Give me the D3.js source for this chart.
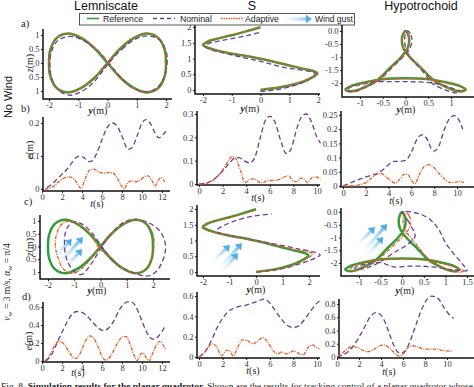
<!DOCTYPE html>
<html>
<head>
<meta charset="utf-8">
<script src="https://cdn.jsdelivr.net/npm/d3@7"></script>
<style>
  body { margin: 0; background: #fff; }
  svg { display: block; }
</style>
</head>
<body>
<svg id="fig" width="474" height="387"></svg>
<script>
"use strict"

/****** DATA ******/
// trajectories as [y, z] in metres
const lemRef = [[0,0],[0.42,0.5],[0.88,0.88],[1.35,1.05],[1.75,0.88],[1.96,0.45],[2.0,0],[1.96,-0.45],[1.75,-0.88],[1.35,-1.05],[0.88,-0.88],[0.42,-0.5],
  [0,0],[-0.42,0.5],[-0.88,0.88],[-1.35,1.05],[-1.75,0.88],[-1.96,0.45],[-2.0,0],[-1.96,-0.45],[-1.75,-0.88],[-1.35,-1.05],[-0.88,-0.88],[-0.42,-0.5]]
const lemNomA = [[0.05,0],[0.5,0.5],[0.95,0.85],[1.4,0.97],[1.8,0.8],[2.02,0.35],[2.03,-0.1],[1.92,-0.55],[1.65,-0.92],[1.25,-1.02],[0.8,-0.85],[0.4,-0.45],
  [0.05,0],[-0.4,0.5],[-0.85,0.82],[-1.3,0.95],[-1.7,0.8],[-1.92,0.4],[-1.97,-0.05],[-1.92,-0.5],[-1.7,-0.95],[-1.3,-1.15],[-0.85,-1.0],[-0.4,-0.6]]
const lemAdaA = [[0.02,0.02],[0.44,0.52],[0.9,0.9],[1.36,1.06],[1.77,0.87],[1.97,0.43],[2.01,-0.02],[1.95,-0.47],[1.73,-0.9],[1.33,-1.06],[0.86,-0.89],[0.4,-0.49],
  [0.02,0.01],[-0.4,0.5],[-0.86,0.9],[-1.33,1.06],[-1.74,0.9],[-1.97,0.46],[-2.01,0.01],[-1.97,-0.44],[-1.76,-0.87],[-1.36,-1.05],[-0.9,-0.9],[-0.44,-0.51]]
const lemNomC = [[0.05,0],[0.5,0.6],[0.9,0.95],[1.35,1.06],[1.9,0.9],[2.3,0.55],[2.48,0],[2.35,-0.6],[2.1,-1.0],[1.78,-1.16],[1.3,-1.05],[0.72,-0.77],[0.3,-0.35],
  [0.05,0],[-0.3,0.5],[-0.7,0.88],[-1.05,0.97],[-1.3,0.67],[-1.37,0],[-1.25,-0.6],[-1.0,-0.98],[-0.73,-1.1],[-0.4,-0.75],[-0.15,-0.35]]
const lemAdaC = [[-0.05,-0.05],[0.45,0.55],[0.95,0.92],[1.4,1.05],[1.8,0.85],[2.02,0.4],[2.03,0],[1.95,-0.45],[1.7,-0.9],[1.35,-1.05],[0.9,-0.9],[0.45,-0.5],
  [-0.05,-0.05],[-0.4,0.5],[-0.8,0.85],[-1.2,1.0],[-1.5,0.85],[-1.68,0.45],[-1.72,0],[-1.6,-0.5],[-1.4,-0.9],[-1.05,-1.05],[-0.7,-0.85],[-0.35,-0.45]]

const sRef = [[0,0],[0.5,0.06],[1.0,0.14],[1.5,0.27],[1.8,0.4],[1.98,0.52],[1.85,0.6],[1.5,0.67],[1.0,0.78],[0.5,0.89],[0,0.99],[-0.5,1.08],[-1.0,1.15],
  [-1.5,1.25],[-1.85,1.35],[-2.0,1.43],[-1.85,1.53],[-1.5,1.63],[-1.0,1.74],[-0.5,1.86],[0,1.99]]
const sNomA = [[0,-0.05],[0.5,0.0],[1.0,0.1],[1.5,0.25],[1.78,0.4],[1.9,0.52],[1.75,0.58],[1.3,0.65],[0.8,0.72],[0.3,0.84],[-0.2,0.95],[-0.8,1.07],
  [-1.4,1.2],[-1.8,1.3],[-1.93,1.38],[-1.82,1.47],[-1.4,1.56],[-0.9,1.65],[-0.4,1.74],[-0.05,1.82]]
const sAdaA = [[0,0.01],[0.5,0.07],[1.0,0.15],[1.5,0.28],[1.82,0.41],[2.0,0.53],[1.86,0.61],[1.5,0.68],[1.0,0.79],[0.5,0.9],[0,1.0],[-0.5,1.09],[-1.0,1.16],
  [-1.5,1.26],[-1.86,1.36],[-2.01,1.44],[-1.87,1.54],[-1.5,1.64],[-1.0,1.75],[-0.5,1.87],[0,1.99]]
const sNomC = [[0,0],[0.6,0.05],[1.2,0.15],[1.8,0.3],[2.25,0.45],[2.42,0.54],[2.2,0.63],[1.66,0.72],[1.0,0.84],[0.1,0.98],[-0.6,1.1],[-1.2,1.2],
  [-1.48,1.28],[-1.45,1.36],[-1.2,1.48],[-0.87,1.6],[-0.4,1.72],[0.1,1.8],[0.59,1.84]]
const sAdaC = [[0,0],[0.5,0.04],[1.0,0.12],[1.5,0.26],[1.9,0.42],[2.15,0.57],[1.95,0.65],[1.5,0.7],[1.0,0.8],[0.5,0.9],[0,0.99],[-0.5,1.07],[-1.0,1.15],
  [-1.5,1.24],[-1.88,1.33],[-2.05,1.42],[-1.9,1.52],[-1.5,1.62],[-1.0,1.73],[-0.5,1.85],[0,1.97]]

const hypRef = [[0,0],[0.06,-0.15],[0.08,-0.4],[0.05,-0.65],[0,-0.8],[-0.12,-1.05],[-0.3,-1.35],[-0.47,-1.65],[-0.61,-1.88],[-0.85,-2.12],[-1.1,-2.3],
  [-1.28,-2.3],[-1.32,-2.25],[-1.2,-2.12],[-0.95,-2.0],[-0.61,-1.88],[-0.3,-1.83],[0,-1.82],[0.3,-1.83],[0.61,-1.88],[0.95,-2.0],[1.2,-2.12],[1.32,-2.25],
  [1.28,-2.3],[1.1,-2.3],[0.85,-2.12],[0.61,-1.88],[0.47,-1.65],[0.3,-1.35],[0.12,-1.05],[0,-0.8],[-0.05,-0.65],[-0.08,-0.4],[-0.06,-0.15]]
const hypNomA = [[0.05,0],[0.12,-0.15],[0.14,-0.4],[0.1,-0.65],[0.04,-0.82],[-0.1,-1.08],[-0.28,-1.38],[-0.46,-1.7],[-0.6,-1.92],[-0.85,-2.15],[-1.1,-2.32],
  [-1.3,-2.3],[-1.22,-2.17],[-0.95,-2.05],[-0.6,-1.95],[-0.3,-1.95],[0,-1.95],[0.3,-1.96],[0.58,-2.0],[0.9,-2.12],[1.1,-2.25],[1.22,-2.33],[1.1,-2.38],
  [0.85,-2.25],[0.58,-2.0],[0.45,-1.7],[0.3,-1.4],[0.15,-1.1],[0.04,-0.82],[0,-0.62],[-0.02,-0.38],[0,-0.12]]
const hypAdaA = [[0.01,-0.01],[0.07,-0.16],[0.09,-0.41],[0.06,-0.66],[0.01,-0.81],[-0.11,-1.06],[-0.29,-1.36],[-0.46,-1.66],[-0.6,-1.89],[-0.84,-2.13],[-1.09,-2.31],
  [-1.27,-2.31],[-1.31,-2.26],[-1.19,-2.13],[-0.94,-2.01],[-0.6,-1.89],[-0.29,-1.84],[0.01,-1.83],[0.31,-1.84],[0.62,-1.9],[0.96,-2.02],[1.22,-2.14],[1.34,-2.26],
  [1.29,-2.31],[1.1,-2.31],[0.85,-2.13],[0.62,-1.89],[0.48,-1.66],[0.31,-1.36],[0.13,-1.06],[0.01,-0.81],[-0.04,-0.66],[-0.07,-0.41],[-0.05,-0.16]]
const hypNomC = [[0,0],[0.12,-0.3],[0.22,-0.6],[0.3,-0.95],[0.1,-1.3],[-0.2,-1.6],[-0.5,-1.95],[-0.75,-2.15],[-1.0,-2.25],[-1.1,-2.2],[-0.95,-2.08],[-0.7,-2.02],
  [-0.5,-1.98],[-0.2,-2.15],[0.2,-2.12],[0.7,-2.15],[1.1,-2.25],[1.4,-2.3],[1.5,-2.3],[1.4,-2.05],[1.2,-1.65],[1.0,-1.2],[0.85,-0.7],[0.65,-0.3],[0.35,-0.05]]
const hypAdaC = [[0.08,0],[0.16,-0.15],[0.2,-0.4],[0.16,-0.65],[0.08,-0.82],[-0.06,-1.08],[-0.24,-1.38],[-0.43,-1.67],[-0.57,-1.88],[-0.82,-2.12],[-1.05,-2.28],
  [-1.22,-2.28],[-1.12,-2.12],[-0.9,-2.0],[-0.57,-1.88],[-0.25,-1.83],[0.05,-1.83],[0.35,-1.85],[0.68,-1.92],[1.0,-2.05],[1.28,-2.2],[1.42,-2.3],[1.35,-2.36],
  [1.1,-2.3],[0.85,-2.12],[0.62,-1.85],[0.48,-1.6],[0.34,-1.3],[0.2,-1.0],[0.1,-0.8],[0.04,-0.6],[0.02,-0.35],[0.03,-0.12]]

// tracking errors as [t (s), e (m)]
const errLemNom = [[0.5,0.005],[1,0.015],[1.5,0.03],[2,0.045],[2.5,0.06],[3,0.08],[3.5,0.097],[3.8,0.1],[4.2,0.095],[4.7,0.083],[5.0,0.085],[5.5,0.11],[6,0.15],
  [6.5,0.185],[7,0.2],[7.4,0.195],[8,0.16],[8.6,0.12],[9,0.125],[9.5,0.16],[10,0.2],[10.4,0.21],[10.8,0.2],[11.3,0.17],[11.7,0.155],[12.1,0.165],[12.4,0.175]]
const errLemAda = [[0.3,0],[1,0.005],[1.6,0.02],[2.2,0.033],[2.7,0.037],[3.1,0.033],[3.5,0.018],[3.9,0.002],[4.3,0.03],[4.8,0.058],[5.2,0.06],[5.7,0.052],[6.2,0.048],
  [6.7,0.05],[7.1,0.048],[7.5,0.035],[7.9,0.012],[8.2,0],[8.6,0.02],[9.0,0.025],[9.4,0.022],[9.8,0.027],[10.3,0.038],[10.6,0.04],[11.0,0.025],[11.3,0.008],
  [11.6,0.025],[11.9,0.035],[12.1,0.03],[12.3,0.02]]
const errSNom = [[0,0],[0.5,0.003],[1,0.012],[1.5,0.03],[2,0.055],[2.5,0.085],[3,0.11],[3.4,0.113],[3.8,0.1],[4.3,0.09],[4.7,0.11],[5.2,0.2],[5.6,0.27],[6,0.29],
  [6.4,0.27],[6.9,0.19],[7.4,0.13],[7.8,0.15],[8.3,0.24],[8.8,0.295],[9.1,0.3],[9.5,0.27],[10,0.2],[10.3,0.175]]
const errSAda = [[0,0],[0.5,0.002],[1,0.01],[1.5,0.03],[2,0.06],[2.5,0.1],[2.8,0.118],[3.1,0.11],[3.5,0.06],[3.9,0.005],[4.3,0.02],[4.7,0.022],[5.1,0.008],[5.4,0.005],
  [5.8,0.015],[6.3,0.015],[6.8,0.02],[7.3,0.032],[7.6,0.035],[8.0,0.012],[8.3,0.01],[8.6,0.025],[8.9,0.02],[9.2,0.005],[9.6,0.028],[9.9,0.03],[10.3,0.02]]
const errHypNom = [[0,0],[0.5,0.008],[1,0.017],[1.5,0.025],[2,0.032],[2.5,0.038],[3,0.045],[3.5,0.057],[4,0.075],[4.5,0.087],[5,0.087],[5.5,0.09],[6,0.12],
  [6.5,0.165],[6.9,0.18],[7.3,0.17],[7.7,0.135],[8.0,0.123],[8.4,0.14],[8.9,0.2],[9.4,0.24],[9.8,0.248],[10.2,0.23],[10.5,0.2]]
const errHypAda = [[0,0],[1,0.001],[1.5,0.005],[2,0.012],[2.5,0.028],[3,0.042],[3.3,0.045],[3.7,0.035],[4.2,0.018],[4.6,0.01],[5,0.025],[5.4,0.042],[5.7,0.04],
  [6.0,0.02],[6.3,0.008],[6.7,0.04],[7.1,0.068],[7.5,0.075],[7.9,0.068],[8.4,0.045],[8.9,0.025],[9.3,0.013],[9.8,0.013],[10.2,0.017],[10.6,0.012]]
const errLemNomW = [[0.4,0],[1,0.08],[1.5,0.2],[2,0.32],[2.5,0.43],[3,0.52],[3.5,0.55],[4,0.54],[4.5,0.5],[5,0.44],[5.5,0.38],[6.1,0.34],[6.6,0.36],[7.2,0.45],
  [7.8,0.58],[8.4,0.65],[8.8,0.66],[9.3,0.62],[9.8,0.5],[10.3,0.36],[10.8,0.26],[11.2,0.24],[11.6,0.27],[12.0,0.33],[12.4,0.4]]
const errLemAdaW = [[0.3,0],[0.8,0.07],[1.3,0.18],[1.7,0.22],[2.1,0.2],[2.6,0.12],[3.1,0.04],[3.4,0.03],[3.8,0.08],[4.3,0.21],[4.8,0.28],[5.2,0.25],[5.7,0.13],
  [6.1,0.03],[6.4,0.01],[6.9,0.06],[7.5,0.19],[8.1,0.27],[8.4,0.27],[8.9,0.16],[9.3,0.04],[9.5,0.005],[9.9,0.08],[10.1,0.09],[10.4,0.04],[10.7,0],[11.0,0.07],
  [11.5,0.19],[11.8,0.22],[12.1,0.18],[12.4,0.12]]
const errSNomW = [[0,0],[0.5,0.05],[1,0.15],[1.5,0.28],[2,0.38],[2.5,0.45],[3,0.48],[3.5,0.5],[4,0.51],[4.5,0.53],[5,0.55],[5.5,0.57],[6,0.53],[6.5,0.45],[7,0.37],
  [7.5,0.31],[8,0.29],[8.5,0.31],[9,0.38],[9.5,0.46],[10,0.53],[10.3,0.56]]
const errSAdaW = [[0,0],[0.5,0.05],[1.1,0.13],[1.5,0.1],[1.9,0.01],[2.3,0.065],[2.6,0.06],[2.9,0.01],[3.3,0.1],[3.7,0.17],[4.1,0.16],[4.6,0.13],[5.0,0.16],[5.4,0.19],
  [5.8,0.15],[6.3,0.06],[6.7,0.03],[7.0,0.05],[7.4,0.03],[7.8,0.05],[8.1,0.06],[8.5,0.03],[8.8,0.02],[9.3,0.1],[9.6,0.12],[9.9,0.1],[10.2,0.08]]
const errHypNomW = [[0,0],[0.5,0.03],[1,0.08],[1.5,0.17],[2,0.3],[2.5,0.45],[3,0.6],[3.5,0.67],[3.9,0.65],[4.3,0.55],[4.7,0.38],[5.1,0.2],[5.5,0.08],[5.8,0.06],
  [6.2,0.09],[6.6,0.22],[7.1,0.45],[7.6,0.68],[8.1,0.85],[8.6,0.92],[9.1,0.9],[9.6,0.78],[10.1,0.66],[10.6,0.58]]
const errHypAdaW = [[0,0],[0.5,0.06],[1,0.13],[1.4,0.16],[1.9,0.14],[2.5,0.09],[2.9,0.08],[3.4,0.12],[3.9,0.17],[4.3,0.18],[4.8,0.13],[5.3,0.05],[5.7,0.01],
  [6.1,0.06],[6.5,0.15],[6.9,0.17],[7.4,0.15],[7.9,0.12],[8.5,0.12],[9.1,0.12],[9.6,0.1],[10.1,0.09],[10.5,0.09]]

// wind gust arrows, [tail, head] in data units
const windLem = [[[-1.73,-0.41],[-1.09,0.29]],[[-1.62,-0.73],[-0.67,0.37]],[[-1.35,-0.84],[-0.7,-0.1]]]
const windS = [[[-1.66,0.32],[-0.98,0.86]],[[-1.43,0.06],[-0.53,0.92]],[[-1.28,0.0],[-0.68,0.6]]]
const windHyp = [[[-1.04,-1.29],[-0.63,-0.59]],[[-0.93,-1.61],[-0.35,-0.47]],[[-0.81,-1.69],[-0.44,-0.98]]]

// ticks
const ticksPm2 = [-2, -1, 0, 1, 2]
const ticksZLem = [-1, -0.5, 0, 0.5, 1]
const labelsZLem = ['1', '0.5', '0', '0.5', '1']
const ticksZS = [0, 0.5, 1, 1.5, 2]
const ticksYHypA = [-1, -0.5, 0, 0.5, 1]
const ticksYHypC = [-1, -0.5, 0, 0.5, 1, 1.5]
const ticksZHyp = [0, -0.5, -1, -1.5, -2]
const labelsZHyp = ['0.0', '-0.5', '-1', '-1.5', '-2']
const ticksT12 = [0, 2, 4, 6, 8, 10, 12]
const ticksT10 = [0, 2, 4, 6, 8, 10]
const ticksELemB = [0, 0.1, 0.2]
const ticksESB = [0, 0.1, 0.2, 0.3]
const ticksEHypB = [0, 0.05, 0.1, 0.15, 0.2, 0.25]
const ticksEW6 = [0, 0.2, 0.4, 0.6]
const ticksEW8 = [0, 0.2, 0.4, 0.6, 0.8]

const titles = ['Lemniscate', 'S', 'Hypotrochoid']

/****** STYLE ******/
const serif = '"Liberation Serif", "DejaVu Serif", serif'
const sans = '"Liberation Sans", Arial, sans-serif'
const colRef = '#2f9d3a'
const colNom = '#6a3d98'
const colAda = '#e95a1f'
const styles = {
  ref: {stroke: colRef, width: 2.5, dash: null},
  nom: {stroke: colNom, width: 1.3, dash: '5,3'},
  ada: {stroke: colAda, width: 1.3, dash: '3.5,1.2,1,1.2'},
}

const svg = d3.select('#fig')
const defs = svg.append('defs')
let gradN = 0

function fmt(d) { return String(d) }

function arrow(g, x1, y1, x2, y2, w) {
  const id = `wg${gradN++}`
  const gr = defs.append('linearGradient').attr('id', id).attr('gradientUnits', 'userSpaceOnUse')
    .attr('x1', x1).attr('y1', y1).attr('x2', x2).attr('y2', y2)
  gr.append('stop').attr('offset', 0).attr('stop-color', '#cdeaf8').attr('stop-opacity', 0)
  gr.append('stop').attr('offset', 0.5).attr('stop-color', '#9fd3f1').attr('stop-opacity', 0.6)
  gr.append('stop').attr('offset', 1).attr('stop-color', '#4eaee3').attr('stop-opacity', 1)
  const len = Math.hypot(x2 - x1, y2 - y1)
  const ux = (x2 - x1) / len, uy = (y2 - y1) / len
  const hl = w * 1.9, hw = w * 1.35
  const bx = x2 - ux * hl, by = y2 - uy * hl
  g.append('line').attr('x1', x1).attr('y1', y1).attr('x2', bx).attr('y2', by)
    .attr('stroke', `url(#${id})`).attr('stroke-width', w)
  g.append('path')
    .attr('d', `M${x2},${y2}L${bx - uy * hw},${by + ux * hw}L${bx + uy * hw},${by - ux * hw}Z`)
    .attr('fill', '#4eaee3')
}

function panel(p) {
  const x = d3.scaleLinear().domain(p.xDomain).range(p.xRange)
  const y = d3.scaleLinear().domain(p.yDomain).range(p.yRange)
  const g = svg.append('g')

  const gx = g.append('g').attr('transform', `translate(0,${p.axisY})`)
    .call(d3.axisBottom(x).tickValues(p.xTicks).tickFormat((d, i) => p.xLabels ? p.xLabels[i] : fmt(d)).tickSize(2).tickPadding(1))
  const gy = g.append('g').attr('transform', `translate(${p.axisX},0)`)
    .call(d3.axisLeft(y).tickValues(p.yTicks).tickFormat((d, i) => p.yLabels ? p.yLabels[i] : fmt(d)).tickSize(2).tickPadding(1.5))
  for (const a of [gx, gy]) {
    a.select('.domain').remove()
    a.attr('font-family', serif).attr('font-size', 8.5)
    a.selectAll('.tick text').attr('fill', '#333')
    a.selectAll('.tick line').attr('stroke', '#222')
  }
  g.append('path')
    .attr('d', `M${p.axisX},${p.yTop}V${p.axisY}H${p.xEnd}`)
    .attr('fill', 'none').attr('stroke', '#111').attr('stroke-width', 1.5)

  if (p.wind) for (const [t, h] of p.wind) arrow(g, x(t[0]), y(t[1]), x(h[0]), y(h[1]), 3.2)

  const curve = p.closed === true ? d3.curveCatmullRomClosed.alpha(0.5)
    : p.closed === false ? d3.curveCatmullRom.alpha(0.5) : d3.curveMonotoneX
  const line = d3.line().x(d => x(d[0])).y(d => y(d[1])).curve(curve)
  for (const s of p.series) {
    const st = styles[s.kind]
    g.append('path').datum(s.data).attr('d', line)
      .attr('fill', 'none').attr('stroke', st.stroke).attr('stroke-width', st.width)
      .attr('stroke-dasharray', st.dash).attr('stroke-linejoin', 'round')
  }

  if (p.xTitle) axisTitle(g, p.xTitle[0], p.xTitle[1], p.xTitle[2], p.xTitle[3], false)
  if (p.yTitle) axisTitle(g, p.yTitle[0], p.yTitle[1], p.yTitle[2], p.yTitle[3], true)
}

function axisTitle(g, x, y, v, unit, rot) {
  const t = g.append('text').attr('font-family', serif).attr('font-size', 10).attr('fill', '#222').attr('text-anchor', 'middle')
  if (rot) t.attr('transform', `translate(${x},${y}) rotate(-90)`)
  else t.attr('x', x).attr('y', y)
  t.append('tspan').attr('font-style', 'italic').attr('font-weight', v === 'y' ? 'bold' : null).text(v)
  t.append('tspan').text(`(${unit})`)
}

/****** PANELS ******/
const panels = [
  // row a: no wind, trajectories
  {xDomain: [-2, 2], xRange: [49, 166], yDomain: [-1, 1], yRange: [91, 35], axisX: 43, axisY: 99, yTop: 29, xEnd: 172,
    xTicks: ticksPm2, yTicks: ticksZLem, yLabels: labelsZLem, closed: true,
    series: [{kind: 'ref', data: lemRef}, {kind: 'nom', data: lemNomA}, {kind: 'ada', data: lemAdaA}],
    xTitle: [98, 114, 'y', 'm'], yTitle: [33, 63, 'z', 'm']},
  {xDomain: [-2, 2], xRange: [203, 318], yDomain: [0, 2], yRange: [90, 27], axisX: 195, axisY: 94, yTop: 22, xEnd: 320,
    xTicks: ticksPm2, yTicks: ticksZS, closed: false,
    series: [{kind: 'ref', data: sRef}, {kind: 'nom', data: sNomA}, {kind: 'ada', data: sAdaA}],
    xTitle: [250, 112, 'y', 'm']},
  {xDomain: [-1, 1], xRange: [360, 451], yDomain: [-2, 0], yRange: [83, 31], axisX: 342, axisY: 97, yTop: 25, xEnd: 474,
    xTicks: ticksYHypA, yTicks: ticksZHyp, yLabels: labelsZHyp, closed: true,
    series: [{kind: 'ref', data: hypRef}, {kind: 'nom', data: hypNomA}, {kind: 'ada', data: hypAdaA}],
    xTitle: [406, 113, 'y', 'm']},
  // row b: no wind, errors
  {xDomain: [0, 12], xRange: [42, 162], yDomain: [0, 0.2], yRange: [189, 123], axisX: 43, axisY: 191, yTop: 117, xEnd: 170,
    xTicks: ticksT12, yTicks: ticksELemB,
    series: [{kind: 'nom', data: errLemNom}, {kind: 'ada', data: errLemAda}],
    xTitle: [97, 207, 't', 's'], yTitle: [33, 150, 'e', 'm']},
  {xDomain: [0, 10], xRange: [199, 317], yDomain: [0, 0.3], yRange: [184, 114], axisX: 197, axisY: 185, yTop: 111, xEnd: 320,
    xTicks: ticksT10, yTicks: ticksESB,
    series: [{kind: 'nom', data: errSNom}, {kind: 'ada', data: errSAda}],
    xTitle: [258, 201, 't', 's']},
  {xDomain: [0, 10], xRange: [343, 457], yDomain: [0, 0.25], yRange: [186, 115], axisX: 341, axisY: 187, yTop: 111, xEnd: 474,
    xTicks: ticksT10, yTicks: ticksEHypB,
    series: [{kind: 'nom', data: errHypNom}, {kind: 'ada', data: errHypAda}],
    xTitle: [396, 204, 't', 's']},
  // row c: wind, trajectories
  {xDomain: [-2, 2], xRange: [48, 153], yDomain: [-1, 1], yRange: [272, 221], axisX: 40, axisY: 279, yTop: 215, xEnd: 170,
    xTicks: ticksPm2, yTicks: ticksZLem, yLabels: labelsZLem, closed: true, wind: windLem,
    series: [{kind: 'ref', data: lemRef}, {kind: 'nom', data: lemNomC}, {kind: 'ada', data: lemAdaC}],
    xTitle: [97, 294, 'y', 'm'], yTitle: [33, 247, 'z', 'm']},
  {xDomain: [-2, 2], xRange: [203, 309], yDomain: [0, 2], yRange: [272, 209], axisX: 197, axisY: 276, yTop: 205, xEnd: 320,
    xTicks: ticksPm2, yTicks: ticksZS, closed: false, wind: windS,
    series: [{kind: 'ref', data: sRef}, {kind: 'nom', data: sNomC}, {kind: 'ada', data: sAdaC}],
    xTitle: [256, 293, 'y', 'm']},
  {xDomain: [-1, 1.5], xRange: [359, 467], yDomain: [-2, 0], yRange: [263, 212], axisX: 341, axisY: 276, yTop: 208, xEnd: 474,
    xTicks: ticksYHypC, yTicks: ticksZHyp, yLabels: labelsZHyp, closed: true, wind: windHyp,
    series: [{kind: 'ref', data: hypRef}, {kind: 'nom', data: hypNomC}, {kind: 'ada', data: hypAdaC}],
    xTitle: [405, 294, 'y', 'm']},
  // row d: wind, errors
  {xDomain: [0, 12], xRange: [42, 162], yDomain: [0, 0.6], yRange: [361, 307], axisX: 43, axisY: 362, yTop: 302, xEnd: 170,
    xTicks: ticksT12, yTicks: ticksEW6,
    series: [{kind: 'nom', data: errLemNomW}, {kind: 'ada', data: errLemAdaW}],
    xTitle: [78, 376, 't', 's'], yTitle: [32, 341, 'e', 'm']},
  {xDomain: [0, 10], xRange: [199, 317], yDomain: [0, 0.6], yRange: [357, 296], axisX: 197, axisY: 358, yTop: 292, xEnd: 320,
    xTicks: ticksT10, yTicks: ticksEW6,
    series: [{kind: 'nom', data: errSNomW}, {kind: 'ada', data: errSAdaW}],
    xTitle: [253, 374, 't', 's']},
  {xDomain: [0, 10], xRange: [337, 447], yDomain: [0, 0.8], yRange: [357, 304], axisX: 339, axisY: 358, yTop: 299, xEnd: 474,
    xTicks: ticksT10, yTicks: ticksEW8,
    series: [{kind: 'nom', data: errHypNomW}, {kind: 'ada', data: errHypAdaW}],
    xTitle: [389, 375, 't', 's']},
]
panels.forEach(panel)

/****** TITLES, LABELS, LEGEND ******/
const titleX = [106, 252, 421]
svg.selectAll('text.title').data(titles).enter().append('text')
  .attr('class', 'title').attr('x', (d, i) => titleX[i]).attr('y', 10)
  .attr('text-anchor', 'middle').attr('font-family', sans).attr('font-size', 12.5).attr('fill', '#111')
  .text(d => d)

const rowLabels = [['a)', 21, 27], ['b)', 21, 112], ['c)', 24, 205], ['d)', 22, 300]]
svg.selectAll('text.row').data(rowLabels).enter().append('text')
  .attr('class', 'row').attr('x', d => d[1]).attr('y', d => d[2])
  .attr('font-family', serif).attr('font-size', 10.5).attr('fill', '#222').text(d => d[0])

svg.append('text').attr('transform', 'translate(12,97) rotate(-90)').attr('text-anchor', 'middle')
  .attr('font-family', sans).attr('font-size', 11).attr('fill', '#111').text('No Wind')

const windLabel = svg.append('text').attr('transform', 'translate(10,282) rotate(-90)').attr('text-anchor', 'middle')
  .attr('font-family', serif).attr('font-size', 9.5).attr('fill', '#222')
windLabel.append('tspan').attr('font-style', 'italic').text('v')
windLabel.append('tspan').attr('font-size', 7).attr('dy', 2).text('w')
windLabel.append('tspan').attr('dy', -2).text(' = 3 m/s, ')
windLabel.append('tspan').attr('font-style', 'italic').text('α')
windLabel.append('tspan').attr('font-size', 7).attr('dy', 2).text('w')
windLabel.append('tspan').attr('dy', -2).text(' = π/4')

// legend
const lg = svg.append('g')
lg.append('rect').attr('x', 79.5).attr('y', 13.5).attr('width', 275).attr('height', 11.5)
  .attr('fill', '#fff').attr('stroke', '#444').attr('stroke-width', 0.9)
const legendItems = [
  {kind: 'ref', label: 'Reference', x0: 87, x1: 99, tx: 103},
  {kind: 'nom', label: 'Nominal', x0: 153, x1: 175, tx: 180},
  {kind: 'ada', label: 'Adaptive', x0: 221, x1: 243, tx: 245},
]
for (const it of legendItems) {
  const st = styles[it.kind]
  lg.append('line').attr('x1', it.x0).attr('x2', it.x1).attr('y1', 18.5).attr('y2', 18.5)
    .attr('stroke', st.stroke).attr('stroke-width', it.kind === 'ref' ? 1.6 : 1.3)
    .attr('stroke-dasharray', it.kind === 'ada' ? '1.5,1' : it.kind === 'nom' ? '4,3' : null)
  lg.append('text').attr('x', it.tx).attr('y', 22).attr('font-family', sans).attr('font-size', 8.7).attr('fill', '#222').text(it.label)
}
arrow(lg, 284, 19, 312, 19, 3.2)
lg.append('text').attr('x', 315).attr('y', 22).attr('font-family', sans).attr('font-size', 8.7).attr('fill', '#222')
  .attr('textLength', 38).attr('lengthAdjust', 'spacingAndGlyphs').text('Wind gust')

// caption (the bottom edge cuts it, as in the original)
const cap = svg.append('text').attr('x', 1).attr('y', 388.5).attr('font-family', serif).attr('font-size', 8.5).attr('fill', '#222')
  .attr('textLength', 472).attr('lengthAdjust', 'spacingAndGlyphs')
cap.append('tspan').text('Fig. 8. ')
cap.append('tspan').attr('font-weight', 'bold').text('Simulation results for the planar quadrotor.')
cap.append('tspan').text(' Shown are the results for tracking control of a planar quadrotor whose')
</script>
</body>
</html>
